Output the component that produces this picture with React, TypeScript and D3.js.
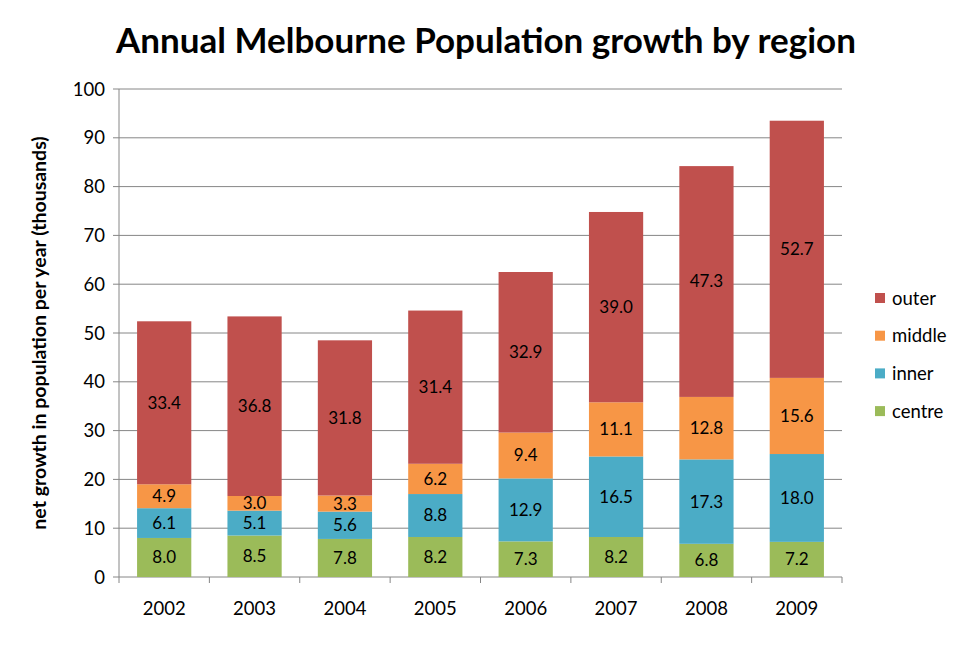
import React from "react";
import * as d3 from "d3";

const years = ["2002", "2003", "2004", "2005", "2006", "2007", "2008", "2009"];
const centre = [8.0, 8.5, 7.8, 8.2, 7.3, 8.2, 6.8, 7.2];
const inner = [6.1, 5.1, 5.6, 8.8, 12.9, 16.5, 17.3, 18.0];
const middle = [4.9, 3.0, 3.3, 6.2, 9.4, 11.1, 12.8, 15.6];
const outer = [33.4, 36.8, 31.8, 31.4, 32.9, 39.0, 47.3, 52.7];
const seriesNames = ["centre", "inner", "middle", "outer"];
const yTicks = [0, 10, 20, 30, 40, 50, 60, 70, 80, 90, 100];

const colors: Record<string, string> = {
  centre: "#9BBB59",
  inner: "#4BACC6",
  middle: "#F79646",
  outer: "#C0504D",
};

const font = "Lato, 'Open Sans', sans-serif";
const labelSize = 18.5;

export default function App() {
  const width = 972;
  const height = 647;
  const margin = { top: 89, right: 130, bottom: 70, left: 119 };

  const rows = years.map((y, i) => ({
    year: y,
    centre: centre[i],
    inner: inner[i],
    middle: middle[i],
    outer: outer[i],
  }));

  const stacked = d3.stack<any>().keys(seriesNames)(rows);

  const x = d3
    .scaleBand()
    .domain(years)
    .range([margin.left, width - margin.right])
    .paddingInner(0.4)
    .paddingOuter(0.2);

  const y = d3
    .scaleLinear()
    .domain([0, 100])
    .range([height - margin.bottom, margin.top]);

  const step = x.step();
  const bounds = d3.range(years.length + 1).map((i) => margin.left + i * step);
  const legendOrder = ["outer", "middle", "inner", "centre"];

  return (
    <svg width={width} height={height} style={{ display: "block", position: "absolute", left: 0, top: 0 }}>
      <rect width={width} height={height} fill="#fff" />
      <text
        x={486}
        y={53}
        textAnchor="middle"
        fontFamily={font}
        fontWeight="bold"
        fontSize={35}
        fill="#000"
      >
        Annual Melbourne Population growth by region
      </text>

      {/* gridlines */}
      {yTicks.map((t) => (
        <line
          key={"g" + t}
          x1={margin.left - 6}
          x2={width - margin.right}
          y1={y(t)}
          y2={y(t)}
          stroke="#868686"
          strokeWidth={1}
        />
      ))}
      <line x1={margin.left} x2={margin.left} y1={y(100)} y2={y(0)} stroke="#868686" />
      {bounds.map((b, i) => (
        <line key={"xt" + i} x1={b} x2={b} y1={y(0)} y2={y(0) + 6} stroke="#868686" />
      ))}

      {/* bars */}
      {stacked.map((s) =>
        s.map((d, i) => (
          <rect
            key={s.key + i}
            x={x(years[i])}
            width={x.bandwidth()}
            y={y(d[1])}
            height={y(d[0]) - y(d[1])}
            fill={colors[s.key]}
          />
        ))
      )}
      {stacked.map((s) =>
        s.map((d, i) => (
          <text
            key={"l" + s.key + i}
            x={(x(years[i]) as number) + x.bandwidth() / 2}
            y={(y(d[0]) + y(d[1])) / 2}
            dy="0.35em"
            textAnchor="middle"
            fontFamily={font}
            fontSize={17}
            fill="#000"
          >
            {(d[1] - d[0]).toFixed(1)}
          </text>
        ))
      )}

      {/* y tick labels */}
      {yTicks.map((t) => (
        <text
          key={"yl" + t}
          x={margin.left - 14}
          y={y(t)}
          dy="0.36em"
          textAnchor="end"
          fontFamily={font}
          fontSize={labelSize}
          fill="#000"
        >
          {t}
        </text>
      ))}
      {/* x tick labels */}
      {years.map((yr) => (
        <text
          key={"xl" + yr}
          x={(x(yr) as number) + x.bandwidth() / 2}
          y={608}
          dy="0.36em"
          textAnchor="middle"
          fontFamily={font}
          fontSize={labelSize}
          fill="#000"
        >
          {yr}
        </text>
      ))}

      <text
        transform={`translate(46,${(y(0) + y(100)) / 2}) rotate(-90)`}
        textAnchor="middle"
        fontFamily={font}
        fontWeight="bold"
        fontSize={19.5}
        fill="#000"
      >
        net growth in population per year (thousands)
      </text>

      {/* legend */}
      {legendOrder.map((k, i) => (
        <g key={"lg" + k} transform={`translate(875,${298 + i * 37.7})`}>
          <rect x={0} y={-5} width={10} height={10} fill={colors[k]} />
          <text x={17} y={0} dy="0.36em" fontFamily={font} fontSize={labelSize} fill="#000">
            {k}
          </text>
        </g>
      ))}
    </svg>
  );
}
